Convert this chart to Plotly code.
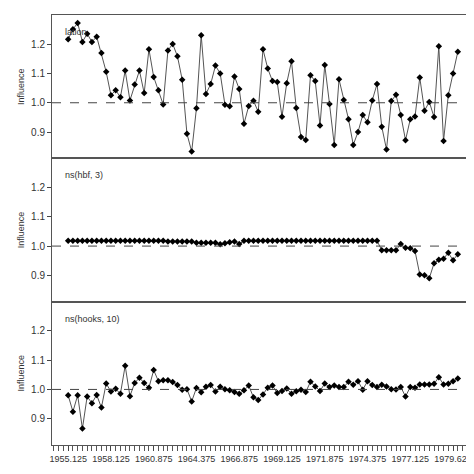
import plotly.graph_objects as go
from plotly.subplots import make_subplots

# tick labels, one every 9 quarters
tick_labels = ["1955.125", "1958.125", "1960.875", "1964.375", "1966.875",
               "1969.125", "1971.875", "1974.375", "1977.125", "1979.625"]

inflation = [1.217, 1.251, 1.273, 1.208, 1.236, 1.208, 1.226, 1.17, 1.106, 1.026,
             1.043, 1.019, 1.11, 1.008, 1.062, 1.11, 1.033, 1.183, 1.088, 1.043,
             0.994, 1.179, 1.201, 1.159, 1.079, 0.894, 0.833, 0.981, 1.231, 1.03,
             1.064, 1.127, 1.1, 0.993, 0.988, 1.09, 1.047, 0.928, 0.989, 1.007,
             0.969, 1.183, 1.117, 1.074, 1.071, 0.952, 1.067, 1.142, 0.982, 0.883,
             0.873, 1.094, 1.074, 0.922, 1.129, 0.996, 0.856, 1.08, 1.009, 0.944,
             0.856, 0.9, 0.958, 0.933, 1.008, 1.064, 0.918, 0.84, 1.006, 1.027,
             0.958, 0.872, 0.944, 0.953, 1.086, 0.973, 1.003, 0.951, 1.193, 0.869,
             1.026, 1.1, 1.174]

hbf = [1.018] * 21 + [1.016] * 6 + [1.011] * 5 + [1.006, 1.01, 1.013, 1.016, 1.007] \
      + [1.018] * 29 + [0.986, 0.986, 0.986, 0.986, 1.007, 0.994, 0.993, 0.983,
                        0.903, 0.9, 0.89, 0.941, 0.953, 0.957, 0.977, 0.952, 0.972]

hooks = [0.98, 0.924, 0.98, 0.866, 0.976, 0.953, 0.981, 0.938, 1.02, 0.993,
         1.002, 0.985, 1.081, 0.977, 1.022, 1.04, 1.022, 1.006, 1.066, 1.028,
         1.031, 1.031, 1.025, 1.015, 0.999, 1.001, 0.959, 1.005, 0.99, 1.009,
         1.015, 0.993, 1.009, 1.001, 0.997, 0.991, 0.985, 0.997, 1.013, 0.973,
         0.964, 0.983, 1.006, 1.013, 0.988, 0.995, 1.003, 0.985, 0.994, 0.999,
         0.991, 1.026, 1.01, 0.995, 1.02, 1.008, 1.013, 1.008, 1.008, 1.026,
         1.016, 1.028, 0.999, 1.028, 1.015, 1.008, 1.016, 1.01, 1.001, 1.0,
         1.008, 0.976, 1.008, 1.006, 1.017, 1.017, 1.017, 1.019, 1.042, 1.017,
         1.019, 1.028, 1.037]

panels = [("lation", inflation), ("ns(hbf, 3)", hbf), ("ns(hooks, 10)", hooks)]

fig = make_subplots(rows=3, cols=1, shared_xaxes=True, vertical_spacing=0)

for i, (label, vals) in enumerate(panels, start=1):
    x = list(range(len(vals)))
    fig.add_trace(go.Scatter(x=x, y=vals, mode="lines+markers",
                             line=dict(color="#555555", width=1),
                             marker=dict(color="black", size=5, symbol="diamond"),
                             showlegend=False), row=i, col=1)
    fig.add_hline(y=1.0, line=dict(color="#444444", width=1, dash="dash"), row=i, col=1)
    yref = "y domain" if i == 1 else f"y{i} domain"
    fig.add_annotation(x=0.025, y=0.93, xref="x domain", yref=yref, text=label,
                       showarrow=False, xanchor="left", font=dict(size=9, color="#333"))
    fig.update_yaxes(range=[0.81, 1.30], tickvals=[0.9, 1.0, 1.1, 1.2],
                     ticktext=["0.9", "1.0", "1.1", "1.2"], ticks="outside", ticklen=4,
                     showgrid=False, zeroline=False, showline=True, mirror=True,
                     linecolor="#555", title=dict(text="Influence", standoff=4,
                                                  font=dict(size=9)),
                     row=i, col=1)
    fig.update_xaxes(range=[-3.4, 85.2], showgrid=False, zeroline=False,
                     showline=True, mirror=True, linecolor="#555",
                     tickvals=list(range(0, 82, 9)), ticktext=tick_labels,
                     tickangle=0, tickfont=dict(size=9),
                     row=i, col=1)

fig.update_xaxes(ticks="outside", ticklen=5, minor=dict(dtick=1, ticks="outside", ticklen=5,
                                                        tick0=0, tickcolor="#555"),
                 row=3, col=1)
fig.update_layout(width=474, height=474, margin=dict(l=44, r=9, t=7, b=37),
                  plot_bgcolor="white", paper_bgcolor="white",
                  font=dict(family="Liberation Sans", size=10, color="#333"))

fig.write_html("out.html")
